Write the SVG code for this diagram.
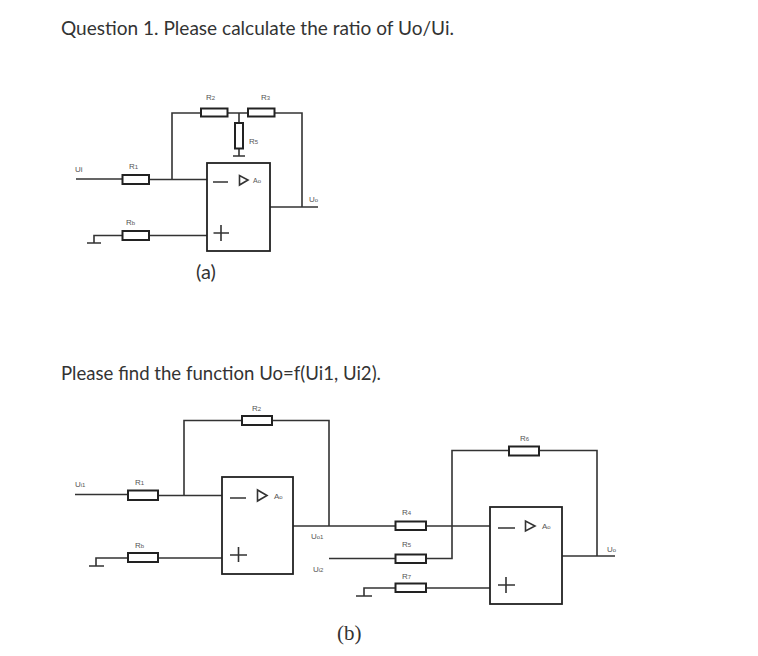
<svg xmlns="http://www.w3.org/2000/svg" width="758" height="656" viewBox="0 0 758 656">
<style>
.w{fill:none;stroke:#333;stroke-width:1.6}
.r{fill:#fff;stroke:#222;stroke-width:2}
.o{fill:#fff;stroke:#222;stroke-width:1.8}
.s{fill:none;stroke:#333;stroke-width:1.6}
.l{font-family:"Liberation Sans",Arial,sans-serif;font-size:8px;fill:#555}
.t{font-family:Lato,"Open Sans",sans-serif;font-size:20px;fill:#333}
.c{font-size:6px}
</style>
<rect width="758" height="656" fill="#fff"/>
<text id="title1" class="t" x="61" y="35" textLength="393" lengthAdjust="spacingAndGlyphs">Question 1. Please calculate the ratio of Uo/Ui.</text>
<text id="title2" class="t" x="61" y="380" textLength="320" lengthAdjust="spacingAndGlyphs">Please find the function Uo=f(Ui1, Ui2).</text>
<text id="caption-a" class="t" x="196" y="279">(a)</text>
<text id="caption-b" x="337" y="640" font-family="Liberation Serif,Times New Roman,serif" font-size="21" fill="#333">(b)</text>

<g id="connectors-a">
<path class="w" d="M76 179H122M149 179.500H207M172 179.500V113H201M228 113H248M274 113H302V207M270 207H318M239 113V123M239 148V156M233 156H245M122 235.500H207M122 235.500H94V243M87 243H101"/>
</g>
<g id="connectors-b">
<path class="w" d="M75 494.500H128M158 495.500H222M184 495.500V420.500H242M272 420.500H329V526M293 526H395M426 526H490M128 558H96V566M89 566H104M158 558H222M329 558.500H395M426 558.500H452V450.500H509M539 450.500H597V556M562 556H615M395 588H364V596M356 596H372M426 588H490"/>
</g>

<g id="opamp-a"><rect class="o" x="207" y="163" width="63" height="88"/>
<path class="s" d="M213 182H228M213.500 233H229M221 225V241M239.500 175.500V185L248 180Z"/>
<text class="l" x="253" y="183" style="font-size:7px">A<tspan class="c">o</tspan></text></g>
<g id="r1-a"><rect class="r" x="122.500" y="175" width="26.500" height="9"/><text class="l" x="129" y="169">R<tspan class="c">1</tspan></text></g>
<g id="rb-a"><rect class="r" x="122.500" y="231" width="26.500" height="9"/><text class="l" x="126" y="225">R<tspan class="c">b</tspan></text></g>
<g id="r2-a"><rect class="r" x="201" y="108.500" width="26.500" height="8"/><text class="l" x="206" y="100">R<tspan class="c">2</tspan></text></g>
<g id="r3-a"><rect class="r" x="248" y="108.500" width="26.500" height="8"/><text class="l" x="261" y="100">R<tspan class="c">3</tspan></text></g>
<g id="r5-a"><rect class="r" x="235" y="123" width="8" height="25.500"/><text class="l" x="249" y="144">R<tspan class="c">5</tspan></text></g>
<text id="ui-a" class="l" x="75" y="172">Ui</text>
<text id="uo-a" class="l" x="309" y="202">U<tspan class="c">o</tspan></text>

<g id="opamp-b1"><rect class="o" x="222" y="477" width="71" height="97"/>
<path class="s" d="M230 498H246M230 555H247M238.500 547V562M257.500 490V501L267 495.500Z"/>
<text class="l" x="274" y="499">A<tspan class="c">o</tspan></text></g>
<g id="opamp-b2"><rect class="o" x="490" y="507" width="72" height="97"/>
<path class="s" d="M498 528H515M498 585H515M506 577V593M525.500 521V531L535 526Z"/>
<text class="l" x="542" y="529">A<tspan class="c">o</tspan></text></g>
<g id="r1-b"><rect class="r" x="128" y="490.500" width="30" height="9.500"/><text class="l" x="135" y="485">R<tspan class="c">1</tspan></text></g>
<g id="rb-b"><rect class="r" x="128" y="553" width="30" height="9"/><text class="l" x="135" y="548">R<tspan class="c">b</tspan></text></g>
<g id="r2-b"><rect class="r" x="242" y="416" width="30" height="9"/><text class="l" x="252" y="411">R<tspan class="c">2</tspan></text></g>
<g id="r4-b"><rect class="r" x="395.500" y="521.500" width="30.500" height="8.500"/><text class="l" x="402" y="515">R<tspan class="c">4</tspan></text></g>
<g id="r5-b"><rect class="r" x="395.500" y="554.500" width="30.500" height="8.500"/><text class="l" x="402" y="547">R<tspan class="c">5</tspan></text></g>
<g id="r6-b"><rect class="r" x="509" y="446.500" width="30" height="9"/><text class="l" x="520" y="441">R<tspan class="c">6</tspan></text></g>
<g id="r7-b"><rect class="r" x="395.500" y="583.500" width="30.500" height="8.500"/><text class="l" x="402" y="579">R<tspan class="c">7</tspan></text></g>
<text id="ui1" class="l" x="75" y="487">U<tspan class="c">i1</tspan></text>
<text id="uo1" class="l" x="311" y="539">U<tspan class="c">o1</tspan></text>
<text id="ui2" class="l" x="313" y="572">U<tspan class="c">i2</tspan></text>
<text id="uo-b" class="l" x="607" y="552">U<tspan class="c">o</tspan></text>
</svg>
